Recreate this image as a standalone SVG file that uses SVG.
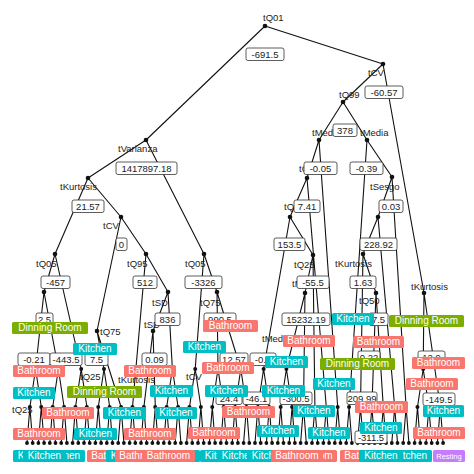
<svg xmlns="http://www.w3.org/2000/svg" width="474" height="474" viewBox="0 0 474 474">
<style>
.e{stroke:#111;stroke-width:1.1;fill:none;stroke-linejoin:round}
.d{fill:#111}
.n{font-family:"Liberation Sans",Arial,sans-serif;font-size:9.5px;fill:#222}
.s rect{fill:#fff;stroke:#333;stroke-width:0.8}
.s text{font-family:"Liberation Sans",Arial,sans-serif;font-size:9.5px;fill:#222;text-anchor:middle}
.l text{font-family:"Liberation Sans",Arial,sans-serif;font-size:10px;fill:#fff;text-anchor:middle}
.B rect{fill:#F8766D}.K rect{fill:#00BFC4}.D rect{fill:#7CAE00}.R rect{fill:#C77CFF}
</style>
<rect width="474" height="474" fill="#fff"/>
<g id="connectors" class="e">
<path d="M265 26L146 140M265 26L383 64M383 64L343 102M383 64L424 293M343 102L319 140M343 102L367 140M319 140L307 178M319 140L337.7 407M307 178L290 217M307 178L326.3 407M290 217L263.6 369M290 217L313 255M313 255L305 293M313 255L314.9 407M305 293L286.4 369M305 293L303.5 407M367 140L349.1 407M367 140L392 177M392 177L378 217M392 177L406.1 407M378 217L363 254M378 217L394.7 407M363 254L360.5 407M363 254L376 293M376 293L371.9 407M376 293L383.3 407M424 293L423.2 369M424 293L440.3 407"/>
<path d="M146 140L88 178M146 140L204 254M88 178L55 254M88 178L121 217M55 254L44 292M55 254L81.2 369M44 292L35.6 369M44 292L58.4 369M121 217L97 331M121 217L146 254M97 331L104 369M97 331L121.1 407M146 254L132.5 407M146 254L168 292M168 292L153 331M168 292L172.4 369M153 331L143.9 407M153 331L155.3 407M204 254L195.2 369M204 254L217 292M217 292L218 369M217 292L240.8 369"/>
<path d="M29.9 407L35.6 369L41.3 407M52.7 407L58.4 369L64.1 407M75.5 407L81.2 369L86.9 407M98.3 407L104 369L109.7 407M166.7 407L172.4 369L178.1 407M189.5 407L195.2 369L200.9 407M212.3 407L218 369L223.7 407M235.1 407L240.8 369L246.5 407M257.9 407L263.6 369L269.3 407M280.7 407L286.4 369L292.1 407M417.5 407L423.2 369L428.9 407"/>
<path d="M27 443L29.9 407L32.7 443M38.4 443L41.3 407L44.1 443M49.8 443L52.7 407L55.5 443M61.2 443L64.1 407L66.9 443M72.6 443L75.5 407L78.3 443M84 443L86.9 407L89.7 443M95.4 443L98.3 407L101.1 443M106.8 443L109.7 407L112.5 443M118.2 443L121.1 407L123.9 443M129.6 443L132.5 407L135.3 443M141 443L143.9 407L146.7 443M152.4 443L155.3 407L158.1 443M163.8 443L166.7 407L169.5 443M175.2 443L178.1 407L180.9 443M186.6 443L189.5 407L192.3 443M198 443L200.9 407L203.7 443M209.4 443L212.3 407L215.1 443M220.8 443L223.7 407L226.5 443M232.2 443L235.1 407L237.9 443M243.6 443L246.5 407L249.3 443M255 443L257.9 407L260.7 443M266.4 443L269.3 407L272.1 443M277.8 443L280.7 407L283.5 443M289.2 443L292.1 407L294.9 443M300.6 443L303.5 407L306.3 443M312 443L314.9 407L317.7 443M323.4 443L326.3 407L329.1 443M334.8 443L337.7 407L340.5 443M346.2 443L349.1 407L351.9 443M357.6 443L360.5 407L363.3 443M369 443L371.9 407L374.7 443M380.4 443L383.3 407L386.1 443M391.8 443L394.7 407L397.5 443M403.2 443L406.1 407L408.9 443M414.6 443L417.5 407L420.3 443M426 443L428.9 407L431.7 443M437.4 443L440.3 407L443.1 443"/>
</g>
<g id="nodes" class="d">
<g id="n-tQ01"><circle cx="265" cy="26" r="2.3"/></g>
<g id="n-tCV"><circle cx="383" cy="64" r="2.3"/></g>
<g id="n-tQ99"><circle cx="343" cy="102" r="2.3"/></g>
<g id="n-tMedia1"><circle cx="319" cy="140" r="2.3"/></g>
<g id="n-tMedia2"><circle cx="367" cy="140" r="2.3"/></g>
<g id="n-tVarianza"><circle cx="146" cy="140" r="2.3"/></g>
<g id="n-tKurtosis1"><circle cx="88" cy="178" r="2.3"/></g>
<g id="n-h"><circle cx="307" cy="178" r="2.3"/></g>
<g id="n-tSesgo"><circle cx="392" cy="177" r="2.3"/></g>
<g id="n-tCV2"><circle cx="121" cy="217" r="2.3"/></g>
<g id="n-k"><circle cx="290" cy="217" r="2.3"/></g>
<g id="n-l"><circle cx="378" cy="217" r="2.3"/></g>
<g id="n-tQ05a"><circle cx="55" cy="254" r="2.3"/></g>
<g id="n-tQ95"><circle cx="146" cy="254" r="2.3"/></g>
<g id="n-tQ05b"><circle cx="204" cy="254" r="2.3"/></g>
<g id="n-tQ25"><circle cx="313" cy="255" r="2.3"/></g>
<g id="n-tKurtosis2"><circle cx="363" cy="254" r="2.3"/></g>
<g id="n-tSD"><circle cx="168" cy="292" r="2.3"/></g>
<g id="n-s"><circle cx="44" cy="292" r="2.3"/></g>
<g id="n-tQ50"><circle cx="376" cy="293" r="2.3"/></g>
<g id="n-tKurtosis3"><circle cx="424" cy="293" r="2.3"/></g>
<g id="n-tQ75b"><circle cx="217" cy="292" r="2.3"/></g>
<g id="n-w"><circle cx="305" cy="293" r="2.3"/></g>
<g id="n-tQ75a"><circle cx="97" cy="331" r="2.3"/></g>
<g id="n-tS"><circle cx="153" cy="331" r="2.3"/></g>
<g id="n-lower"><circle cx="35.6" cy="369" r="2"/><circle cx="58.4" cy="369" r="2"/><circle cx="81.2" cy="369" r="2"/><circle cx="104" cy="369" r="2"/><circle cx="172.4" cy="369" r="2"/><circle cx="195.2" cy="369" r="2"/><circle cx="218" cy="369" r="2"/><circle cx="240.8" cy="369" r="2"/><circle cx="263.6" cy="369" r="2"/><circle cx="286.4" cy="369" r="2"/><circle cx="423.2" cy="369" r="2"/></g>
<g id="n-pairs"><line x1="29.85" y1="407" x2="440.3" y2="407" stroke="#111" stroke-width="4" stroke-linecap="round" stroke-dasharray="0 11.4"/></g>
<g id="leaves"><line x1="27" y1="443" x2="443.2" y2="443" stroke="#111" stroke-width="3.8" stroke-linecap="round" stroke-dasharray="0 5.7"/></g>
</g>
<g id="node-names" class="n">
<text x="263" y="21">tQ01</text><text x="368" y="76">tCV</text><text x="339" y="98">tQ99</text>
<text x="312" y="136">tMedia</text><text x="360" y="136">tMedia</text><text x="118" y="152">tVarianza</text>
<text x="60" y="190">tKurtosis</text><text x="299" y="172">tQ25</text><text x="370" y="190">tSesgo</text>
<text x="103" y="229">tCV</text><text x="284" y="210">tQ75</text>
<text x="36" y="267">tQ05</text><text x="127" y="267">tQ95</text><text x="185" y="267">tQ05</text>
<text x="294" y="268">tQ25</text><text x="335" y="267">tKurtosis</text>
<text x="152" y="306">tSD</text><text x="200" y="306">tQ75</text><text x="292" y="287">tMedia</text>
<text x="359" y="304">tQ50</text><text x="411" y="290">tKurtosis</text>
<text x="100" y="335">tQ75</text><text x="144" y="328">tSD</text><text x="262" y="342">tMedia</text>
<text x="186" y="380">tCV</text><text x="80" y="380">tQ25</text><text x="118" y="383">tKurtosis</text><text x="12" y="413">tQ25</text>
</g>
<g id="splits">
<g class="s"><rect x="246" y="48" width="38" height="12.5" rx="2"/><text x="265" y="57.6">-691.5</text></g>
<g class="s"><rect x="365" y="86" width="38" height="12.5" rx="2"/><text x="384" y="95.6">-60.57</text></g>
<g class="s"><rect x="333" y="124" width="24" height="12.5" rx="2"/><text x="345" y="133.6">378</text></g>
<g class="s"><rect x="116" y="162" width="61" height="12.5" rx="2"/><text x="146.5" y="171.6">1417897.18</text></g>
<g class="s"><rect x="304" y="162" width="33" height="12.5" rx="2"/><text x="320.5" y="171.6">-0.05</text></g>
<g class="s"><rect x="350" y="162" width="33" height="12.5" rx="2"/><text x="366.5" y="171.6">-0.39</text></g>
<g class="s"><rect x="72" y="200" width="32" height="12.5" rx="2"/><text x="88" y="209.6">21.57</text></g>
<g class="s"><rect x="294" y="200" width="26" height="12.5" rx="2"/><text x="307" y="209.6">7.41</text></g>
<g class="s"><rect x="379" y="200" width="24" height="12.5" rx="2"/><text x="391" y="209.6">0.03</text></g>
<g class="s"><rect x="116" y="238" width="11" height="12.5" rx="2"/><text x="121.5" y="247.6">0</text></g>
<g class="s"><rect x="274" y="238" width="31" height="12.5" rx="2"/><text x="289.5" y="247.6">153.5</text></g>
<g class="s"><rect x="360" y="238" width="37" height="12.5" rx="2"/><text x="378.5" y="247.6">228.92</text></g>
<g class="s"><rect x="41" y="276" width="29" height="12.5" rx="2"/><text x="55.5" y="285.6">-457</text></g>
<g class="s"><rect x="133" y="276" width="24" height="12.5" rx="2"/><text x="145" y="285.6">512</text></g>
<g class="s"><rect x="185" y="276" width="37" height="12.5" rx="2"/><text x="203.5" y="285.6">-3326</text></g>
<g class="s"><rect x="297" y="276" width="32" height="12.5" rx="2"/><text x="313" y="285.6">-55.5</text></g>
<g class="s"><rect x="350" y="276" width="26" height="12.5" rx="2"/><text x="363" y="285.6">1.63</text></g>
<g class="s"><rect x="36" y="313" width="17" height="12.5" rx="2"/><text x="44.5" y="322.6">2.5</text></g>
<g class="s"><rect x="155" y="313" width="25" height="12.5" rx="2"/><text x="167.5" y="322.6">836</text></g>
<g class="s"><rect x="204" y="313" width="32" height="12.5" rx="2"/><text x="220" y="322.6">990.5</text></g>
<g class="s"><rect x="282" y="313" width="48" height="12.5" rx="2"/><text x="306" y="322.6">15232.19</text></g>
<g class="s"><rect x="369" y="313" width="19" height="12.5" rx="2"/><text x="378.5" y="322.6">7.5</text></g>
<g class="s"><rect x="18" y="353" width="32" height="12.5" rx="2"/><text x="34" y="362.6">-0.21</text></g>
<g class="s"><rect x="50" y="353" width="32" height="12.5" rx="2"/><text x="66" y="362.6">-443.5</text></g>
<g class="s"><rect x="85" y="353" width="23" height="12.5" rx="2"/><text x="96.5" y="362.6">7.5</text></g>
<g class="s"><rect x="142" y="353" width="25" height="12.5" rx="2"/><text x="154.5" y="362.6">0.09</text></g>
<g class="s"><rect x="220" y="353" width="28" height="12.5" rx="2"/><text x="234" y="362.6">12.57</text></g>
<g class="s"><rect x="250" y="353" width="26" height="12.5" rx="2"/><text x="263" y="362.6">-0.5</text></g>
<g class="s"><rect x="358" y="351" width="22" height="12.5" rx="2"/><text x="369" y="360.6">0.22</text></g>
<g class="s"><rect x="418" y="351" width="27" height="12.5" rx="2"/><text x="431.5" y="360.6">12.9</text></g>
<g class="s"><rect x="216" y="392" width="26" height="12.5" rx="2"/><text x="229" y="401.6">24.4</text></g>
<g class="s"><rect x="243" y="392" width="27" height="12.5" rx="2"/><text x="256.5" y="401.6">-46.1</text></g>
<g class="s"><rect x="280" y="392" width="32" height="12.5" rx="2"/><text x="296" y="401.6">-300.5</text></g>
<g class="s"><rect x="347" y="392" width="30" height="12.5" rx="2"/><text x="362" y="401.6">209.99</text></g>
<g class="s"><rect x="423" y="393" width="32" height="12.5" rx="2"/><text x="439" y="402.6">-149.5</text></g>
<g class="s"><rect x="355" y="431" width="32" height="12.5" rx="2"/><text x="371" y="440.6">-311.5</text></g>
</g>
<g id="leaf-labels">
<g class="l D"><rect x="12" y="322" width="76" height="12" rx="1.5"/><text x="50" y="331.3">Dinning Room</text></g>
<g class="l B"><rect x="203" y="320" width="55" height="12" rx="1.5"/><text x="230.5" y="329.3">Bathroom</text></g>
<g class="l K"><rect x="332" y="313" width="42" height="12" rx="1.5"/><text x="353" y="322.3">Kitchen</text></g>
<g class="l D"><rect x="389" y="315" width="75" height="12" rx="1.5"/><text x="426.5" y="324.3">Dinning Room</text></g>
<g class="l K"><rect x="73" y="343" width="44" height="12" rx="1.5"/><text x="95" y="352.3">Kitchen</text></g>
<g class="l K"><rect x="183" y="341" width="43" height="12" rx="1.5"/><text x="204.5" y="350.3">Kitchen</text></g>
<g class="l B"><rect x="283" y="335" width="52" height="12" rx="1.5"/><text x="309" y="344.3">Bathroom</text></g>
<g class="l B"><rect x="353" y="336" width="51" height="12" rx="1.5"/><text x="378.5" y="345.3">Bathroom</text></g>
<g class="l K"><rect x="265" y="356" width="43" height="12" rx="1.5"/><text x="286.5" y="365.3">Kitchen</text></g>
<g class="l B"><rect x="13" y="365" width="52" height="12" rx="1.5"/><text x="39" y="374.3">Bathroom</text></g>
<g class="l B"><rect x="124" y="365" width="52" height="12" rx="1.5"/><text x="150" y="374.3">Bathroom</text></g>
<g class="l B"><rect x="202" y="362" width="52" height="12" rx="1.5"/><text x="228" y="371.3">Bathroom</text></g>
<g class="l D"><rect x="320" y="358" width="75" height="12" rx="1.5"/><text x="357.5" y="367.3">Dinning Room</text></g>
<g class="l B"><rect x="412" y="357" width="53" height="12" rx="1.5"/><text x="438.5" y="366.3">Bathroom</text></g>
<g class="l K"><rect x="13" y="387" width="42" height="12" rx="1.5"/><text x="34" y="396.3">Kitchen</text></g>
<g class="l D"><rect x="67" y="386" width="75" height="12" rx="1.5"/><text x="104.5" y="395.3">Dinning Room</text></g>
<g class="l K"><rect x="150" y="385" width="43" height="12" rx="1.5"/><text x="171.5" y="394.3">Kitchen</text></g>
<g class="l K"><rect x="205" y="385" width="43" height="12" rx="1.5"/><text x="226.5" y="394.3">Kitchen</text></g>
<g class="l K"><rect x="262" y="385" width="43" height="12" rx="1.5"/><text x="283.5" y="394.3">Kitchen</text></g>
<g class="l K"><rect x="313" y="378" width="42" height="12" rx="1.5"/><text x="334" y="387.3">Kitchen</text></g>
<g class="l B"><rect x="406" y="378" width="52" height="12" rx="1.5"/><text x="432" y="387.3">Bathroom</text></g>
<g class="l B"><rect x="42" y="407" width="52" height="12" rx="1.5"/><text x="68" y="416.3">Bathroom</text></g>
<g class="l K"><rect x="103" y="407" width="43" height="12" rx="1.5"/><text x="124.5" y="416.3">Kitchen</text></g>
<g class="l K"><rect x="155" y="407" width="42" height="12" rx="1.5"/><text x="176" y="416.3">Kitchen</text></g>
<g class="l B"><rect x="222" y="406" width="53" height="12" rx="1.5"/><text x="248.5" y="415.3">Bathroom</text></g>
<g class="l K"><rect x="293" y="405" width="42" height="12" rx="1.5"/><text x="314" y="414.3">Kitchen</text></g>
<g class="l B"><rect x="355" y="401" width="53" height="12" rx="1.5"/><text x="381.5" y="410.3">Bathroom</text></g>
<g class="l K"><rect x="423" y="405" width="41" height="12" rx="1.5"/><text x="443.5" y="414.3">Kitchen</text></g>
<g class="l B"><rect x="13" y="428" width="52" height="12" rx="1.5"/><text x="39" y="437.3">Bathroom</text></g>
<g class="l K"><rect x="74" y="428" width="43" height="12" rx="1.5"/><text x="95.5" y="437.3">Kitchen</text></g>
<g class="l B"><rect x="124" y="428" width="52" height="12" rx="1.5"/><text x="150" y="437.3">Bathroom</text></g>
<g class="l B"><rect x="188" y="427" width="52" height="12" rx="1.5"/><text x="214" y="436.3">Bathroom</text></g>
<g class="l K"><rect x="257" y="425" width="42" height="12" rx="1.5"/><text x="278" y="434.3">Kitchen</text></g>
<g class="l K"><rect x="308" y="427" width="42" height="12" rx="1.5"/><text x="329" y="436.3">Kitchen</text></g>
<g class="l K"><rect x="360" y="422" width="42" height="12" rx="1.5"/><text x="381" y="431.3">Kitchen</text></g>
<g class="l B"><rect x="413" y="427" width="52" height="12" rx="1.5"/><text x="439" y="436.3">Bathroom</text></g>
<g class="l K"><rect x="42" y="450" width="43" height="12" rx="1.5"/><text x="63.5" y="459.3">Kitchen</text></g>
<g class="l K"><rect x="157" y="450" width="43" height="12" rx="1.5"/><text x="178.5" y="459.3">Kitchen</text></g>
<g class="l B"><rect x="285" y="450" width="52" height="12" rx="1.5"/><text x="311" y="459.3">Bathroom</text></g>
<g class="l K"><rect x="374" y="450" width="43" height="12" rx="1.5"/><text x="395.5" y="459.3">Kitchen</text></g>
<g class="l K"><rect x="389" y="450" width="43" height="12" rx="1.5"/><text x="410.5" y="459.3">Kitchen</text></g>
<g class="l K"><rect x="13" y="450" width="43" height="12" rx="1.5"/><text x="34.5" y="459.3">Kitchen</text></g>
<g class="l K"><rect x="23" y="450" width="43" height="12" rx="1.5"/><text x="44.5" y="459.3">Kitchen</text></g>
<g class="l B"><rect x="87" y="450" width="52" height="12" rx="1.5"/><text x="113" y="459.3">Bathroom</text></g>
<g class="l K"><rect x="106" y="450" width="43" height="12" rx="1.5"/><text x="127.5" y="459.3">Kitchen</text></g>
<g class="l B"><rect x="115" y="450" width="52" height="12" rx="1.5"/><text x="141" y="459.3">Bathroom</text></g>
<g class="l B"><rect x="142" y="450" width="53" height="12" rx="1.5"/><text x="168.5" y="459.3">Bathroom</text></g>
<g class="l K"><rect x="200" y="450" width="43" height="12" rx="1.5"/><text x="221.5" y="459.3">Kitchen</text></g>
<g class="l K"><rect x="217" y="450" width="43" height="12" rx="1.5"/><text x="238.5" y="459.3">Kitchen</text></g>
<g class="l K"><rect x="247" y="450" width="43" height="12" rx="1.5"/><text x="268.5" y="459.3">Kitchen</text></g>
<g class="l B"><rect x="271" y="450" width="52" height="12" rx="1.5"/><text x="297" y="459.3">Bathroom</text></g>
<g class="l B"><rect x="340" y="450" width="52" height="12" rx="1.5"/><text x="366" y="459.3">Bathroom</text></g>
<g class="l K"><rect x="359" y="450" width="44" height="12" rx="1.5"/><text x="381" y="459.3">Kitchen</text></g>
<g class="l R"><rect x="433" y="450" width="32" height="12" rx="1.5"/><text x="449" y="458.8" style="font-size:7.5px">Resting</text></g>
</g>
</svg>
